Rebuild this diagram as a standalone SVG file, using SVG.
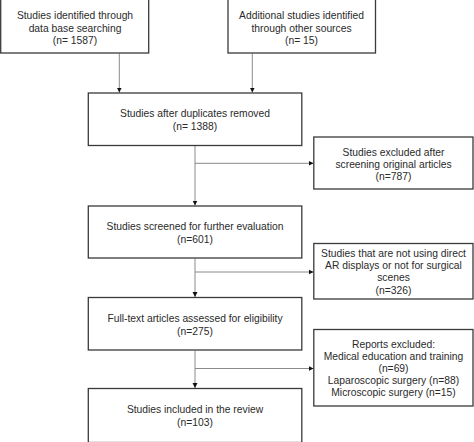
<svg xmlns="http://www.w3.org/2000/svg" width="474" height="442" viewBox="0 0 474 442">
<style>
.box{fill:#fff;stroke:#3a3a3a;stroke-width:1.3}
.t{font-family:"Liberation Sans",Arial,sans-serif;font-size:10.3px;fill:#2a2a2a;text-anchor:middle}
.c{stroke:#8a8a8a;stroke-width:1;fill:none}
</style>
<defs>
<marker id="ah" markerWidth="6" markerHeight="6" refX="5" refY="3" orient="auto" markerUnits="userSpaceOnUse">
<path d="M0,0.5 L5,3 L0,5.5 Z" fill="#111"/>
</marker>
</defs>
<rect width="474" height="442" fill="#fff"/>
<g id="connectors">
<line class="c" x1="119.3" y1="53.5" x2="119.3" y2="92.5" marker-end="url(#ah)"/>
<line class="c" x1="252.3" y1="53.5" x2="252.3" y2="92.5" marker-end="url(#ah)"/>
<line class="c" x1="195" y1="146" x2="195" y2="205.5" marker-end="url(#ah)"/>
<line class="c" x1="195" y1="163.3" x2="313.5" y2="163.3" marker-end="url(#ah)"/>
<line class="c" x1="195" y1="258.5" x2="195" y2="297" marker-end="url(#ah)"/>
<line class="c" x1="195" y1="272" x2="313.5" y2="272" marker-end="url(#ah)"/>
<line class="c" x1="195" y1="350.5" x2="195" y2="388" marker-end="url(#ah)"/>
<line class="c" x1="195" y1="368.5" x2="313.5" y2="368.5" marker-end="url(#ah)"/>
</g>
<g id="n1">
<rect class="box" x="0.7" y="-1" width="148" height="54"/>
<text class="t" x="75" y="19">Studies identified through</text>
<text class="t" x="75" y="31.5">data base searching</text>
<text class="t" x="75" y="44">(n= 1587)</text>
</g>
<g id="n2">
<rect class="box" x="228" y="-1" width="147.5" height="54"/>
<text class="t" x="301.5" y="19">Additional studies identified</text>
<text class="t" x="301.5" y="31.5">through other sources</text>
<text class="t" x="301.5" y="44">(n= 15)</text>
</g>
<g id="n3">
<rect class="box" x="88.3" y="93" width="213.5" height="52.5"/>
<text class="t" x="195" y="117">Studies after duplicates removed</text>
<text class="t" x="195" y="130">(n= 1388)</text>
</g>
<g id="n4">
<rect class="box" x="313.8" y="137" width="159.2" height="52"/>
<text class="t" x="393.5" y="155.5">Studies excluded after</text>
<text class="t" x="393.5" y="167.5">screening original articles</text>
<text class="t" x="393.5" y="179.5">(n=787)</text>
</g>
<g id="n5">
<rect class="box" x="88.3" y="206" width="213.5" height="52"/>
<text class="t" x="195" y="230">Studies screened for further evaluation</text>
<text class="t" x="195" y="243">(n=601)</text>
</g>
<g id="n6">
<rect class="box" x="313.8" y="243.5" width="159.2" height="55.5"/>
<text class="t" x="393.5" y="256.5">Studies that are not using direct</text>
<text class="t" x="393.5" y="269">AR displays or not for surgical</text>
<text class="t" x="393.5" y="281">scenes</text>
<text class="t" x="393.5" y="293.5">(n=326)</text>
</g>
<g id="n7">
<rect class="box" x="88.3" y="297.5" width="213.5" height="52.5"/>
<text class="t" x="195" y="321.5">Full-text articles assessed for eligibility</text>
<text class="t" x="195" y="335">(n=275)</text>
</g>
<g id="n8">
<rect class="box" x="313.8" y="329.5" width="159.2" height="76.5"/>
<text class="t" x="393.5" y="347.5">Reports excluded:</text>
<text class="t" x="393.5" y="359.5">Medical education and training</text>
<text class="t" x="393.5" y="371.5">(n=69)</text>
<text class="t" x="393.5" y="384">Laparoscopic surgery (n=88)</text>
<text class="t" x="393.5" y="396">Microscopic surgery (n=15)</text>
</g>
<g id="n9">
<rect class="box" x="88.3" y="388.5" width="213.5" height="54"/>
<text class="t" x="195" y="412.5">Studies included in the review</text>
<text class="t" x="195" y="425.5">(n=103)</text>
</g>
</svg>
